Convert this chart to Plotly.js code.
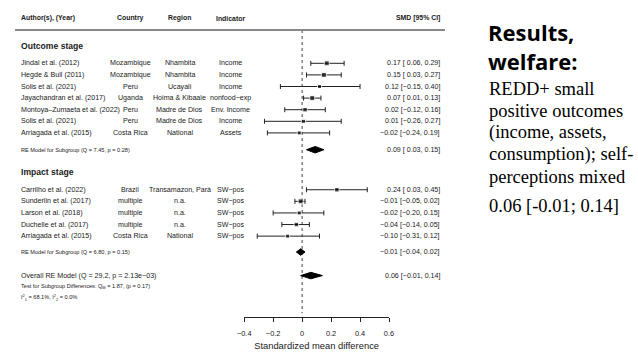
<!DOCTYPE html>
<html>
<head>
<meta charset="utf-8">
<script src="https://cdn.plot.ly/plotly-3.0.1.min.js"></script>
<style>html,body{margin:0;padding:0;background:#fff;}#chart{width:638px;height:359px;}</style>
</head>
<body>
<div id="chart"></div>
<script>
// ---------- data ----------
const outAuthors = ["Jindal et al. (2012)", "Hegde & Bull (2011)", "Solis et al. (2021)", "Jayachandran et al. (2017)", "Montoya\u2013Zumaeta et al. (2022)", "Solis et al. (2021)", "Arriagada et al. (2015)"];
const outCountry = ["Mozambique", "Mozambique", "Peru", "Uganda", "Peru", "Peru", "Costa Rica"];
const outRegion = ["Nhambita", "Nhambita", "Ucayali", "Hoima & Kibaale", "Madre de Dios", "Madre de Dios", "National"];
const outIndicator = ["Income", "Income", "Income", "nonfood\u2212exp", "Env. Income", "Income", "Assets"];
const outSMD = [0.17, 0.15, 0.12, 0.07, 0.02, 0.01, -0.02];
const outLo = [0.06, 0.03, -0.15, 0.01, -0.12, -0.26, -0.24];
const outHi = [0.29, 0.27, 0.40, 0.13, 0.16, 0.27, 0.19];
const outWeight = [5, 5, 4, 5, 4.5, 4, 4];

const impAuthors = ["Carrilho et al. (2022)", "Sunderlin et al. (2017)", "Larson et al. (2018)", "Duchelle et al. (2017)", "Arriagada et al. (2015)"];
const impCountry = ["Brazil", "multiple", "multiple", "multiple", "Costa Rica"];
const impRegion = ["Transamazon, Par\u00e1", "n.a.", "n.a.", "n.a.", "National"];
const impIndicator = ["SW\u2212pos", "SW\u2212pos", "SW\u2212pos", "SW\u2212pos", "SW\u2212pos"];
const impSMD = [0.24, -0.01, -0.02, -0.04, -0.10];
const impLo = [0.03, -0.05, -0.20, -0.14, -0.31];
const impHi = [0.45, 0.02, 0.15, 0.05, 0.12];
const impWeight = [4.5, 5, 4, 4.5, 4];

const summaryLabels = ["RE Model for Subgroup (Q = 7.45, p = 0.28)", "RE Model for Subgroup (Q = 6.80, p = 0.15)", "Overall RE Model (Q = 29.2, p = 2.13e\u221203)"];
const summarySMD = [0.09, -0.01, 0.06];
const summaryLo = [0.03, -0.04, -0.01];
const summaryHi = [0.15, 0.02, 0.14];

const xTicks = [-0.4, -0.2, 0, 0.2, 0.4, 0.6];
const xTickLabels = ["\u22120.4", "\u22120.2", "0", "0.2", "0.4", "0.6"];
const headers = ["Author(s), (Year)", "Country", "Region", "Indicator", "SMD [95% CI]"];
const groupTitles = ["Outcome stage", "Impact stage"];
const testText = "Test for Subgroup Differences: Q<sub>M</sub> = 1.87, (p = 0.17)";
const i2Text = "I<sup>2</sup><sub>1</sub> = 68.1%, I<sup>2</sup><sub>2</sub> = 0.0%";

const slideTitle = ["Results,", "welfare:"];
const slideLines = ["REDD+ small", "positive outcomes", "(income, assets,", "consumption); self-", "perceptions mixed", "0.06 [-0.01; 0.14]"];

// ---------- layout helpers ----------
const W = 638, H = 359;
const fN = "Liberation Sans, Arial, sans-serif";
const ink = "#1a1a1a";
const fmt = v => (v < 0 ? "\u2212" : "") + Math.abs(v).toFixed(2);
const fmtCI = (e, l, h) => {
  const pad = v => (v < 0 ? "" : " ");
  return fmt(e) + " [" + pad(l) + fmt(l) + ", " + fmt(h) + "]";
};

// row positions (row units, downward)
const outRows = outSMD.map((_, i) => i);
const impStart = 10.9;
const impRows = impSMD.map((_, i) => impStart + i);
const sumRows = [7.45, 16.27, 18.3];
const headRow = -3.9, lineRow = -2.87, groupRows = [-1.45, 9.4];
const testRow = 19.25, i2Row = 20.15;

const colX = {author: 19, country: 130, region: 180, indicator: 230.5, smd: 442};
const px = v => v / W;
const py = v => 1 - v / H;

const FS = {row: 7.1, head: 6.9, group: 8.6, small: 5.6};

const annotations = [];
function addText(text, x, row, anchor, size, bold) {
  annotations.push({
    text: bold ? "<b>" + text + "</b>" : text,
    xref: "paper", x: px(x), xanchor: anchor,
    yref: "y", y: row, yanchor: "middle",
    showarrow: false, font: {family: fN, size: size, color: ink}
  });
}

// headers
const hX = [colX.author, colX.country, colX.region, colX.indicator, colX.smd];
const hA = ["left", "center", "center", "center", "right"];
headers.forEach((h, i) => addText(h, hX[i], headRow, hA[i], FS.head, true));
groupTitles.forEach((g, i) => addText(g, colX.author, groupRows[i], "left", FS.group, true));

function studyText(auth, ctry, reg, ind, e, l, h, rows) {
  auth.forEach((a, i) => {
    addText(a, colX.author, rows[i], "left", FS.row);
    addText(ctry[i], colX.country, rows[i], "center", FS.row);
    addText(reg[i], colX.region, rows[i], "center", FS.row);
    addText(ind[i], colX.indicator, rows[i], "center", FS.row);
    addText(fmtCI(e[i], l[i], h[i]), colX.smd, rows[i], "right", FS.row);
  });
}
studyText(outAuthors, outCountry, outRegion, outIndicator, outSMD, outLo, outHi, outRows);
studyText(impAuthors, impCountry, impRegion, impIndicator, impSMD, impLo, impHi, impRows);

summaryLabels.forEach((s, i) => {
  addText(s, colX.author, sumRows[i], "left", i === 2 ? FS.row : FS.small);
  addText(fmtCI(summarySMD[i], summaryLo[i], summaryHi[i]), colX.smd, sumRows[i], "right", FS.row);
});
addText(testText, colX.author, testRow, "left", FS.small);
addText(i2Text, colX.author, i2Row, "left", FS.small);

// slide text
const titleY = [32, 61];
slideTitle.forEach((t, i) => annotations.push({
  text: "<b>" + t + "</b>", xref: "paper", yref: "paper", x: px(486), y: py(titleY[i]),
  xanchor: "left", yanchor: "middle", showarrow: false,
  font: {family: "Open Sans, sans-serif", size: 22, color: "#000"}
}));
const lineY = [89, 110.6, 132.5, 154.5, 176.6, 205.6];
slideLines.forEach((t, i) => annotations.push({
  text: t, xref: "paper", yref: "paper", x: px(487), y: py(lineY[i]),
  xanchor: "left", yanchor: "middle", showarrow: false,
  font: {family: "Liberation Serif, Times New Roman, serif", size: 18.5, color: "#000"}
}));

// ---------- traces ----------
function studyTrace(e, l, h, rows, w) {
  return {
    type: "scatter", mode: "markers", x: e, y: rows, cliponaxis: false,
    marker: {symbol: "square", size: w, color: "#000"},
    error_x: {type: "data", symmetric: false,
      array: e.map((v, i) => h[i] - v), arrayminus: e.map((v, i) => v - l[i]),
      color: "#222", thickness: 1, width: 2.5},
    hoverinfo: "skip", showlegend: false
  };
}
const halfH = 0.28;
const diamonds = summarySMD.map((e, i) => ({
  type: "scatter", mode: "lines", fill: "toself", fillcolor: "#000",
  line: {color: "#000", width: 1}, cliponaxis: false,
  x: [summaryLo[i], e, summaryHi[i], e, summaryLo[i]],
  y: [sumRows[i], sumRows[i] - halfH, sumRows[i], sumRows[i] + halfH, sumRows[i]],
  hoverinfo: "skip", showlegend: false
}));

const data = [studyTrace(outSMD, outLo, outHi, outRows, outWeight),
              studyTrace(impSMD, impLo, impHi, impRows, impWeight)].concat(diamonds);

// y axis: row r -> pixel 63.3 + 11.6 r
const rowPx = 11.6, row0 = 63.3, axisPx = 316.7;
const yTop = -row0 / rowPx, yBot = (axisPx - row0) / rowPx;

const layout = {
  width: W, height: H,
  margin: {l: 0, r: 0, t: 0, b: 0, pad: 0},
  paper_bgcolor: "#fff", plot_bgcolor: "rgba(0,0,0,0)",
  xaxis: {
    domain: [px(244.2), px(389)], range: [-0.4, 0.6], anchor: "y",
    tickvals: xTicks, ticktext: xTickLabels, ticks: "outside", ticklen: 4,
    tickcolor: "#222", tickwidth: 1, showline: true, linecolor: "#222", linewidth: 1,
    showgrid: false, zeroline: false, automargin: false, ticklabelstandoff: 5,
    tickfont: {family: fN, size: 7.4, color: ink},
    title: {text: "Standardized mean difference", standoff: 5,
      font: {family: fN, size: 9.4, color: ink}}
  },
  yaxis: {
    domain: [py(axisPx), 1], range: [yBot, yTop], visible: false,
    showgrid: false, zeroline: false, automargin: false
  },
  shapes: [
    {type: "line", xref: "paper", yref: "y", x0: px(15), x1: px(445), y0: lineRow, y1: lineRow,
     line: {color: "#888", width: 2}},
    {type: "line", xref: "x", yref: "y", x0: 0, x1: 0, y0: lineRow, y1: yBot - 0.3,
     line: {color: "#444", width: 1, dash: "dot"}, layer: "below"}
  ],
  annotations: annotations,
  showlegend: false
};

Plotly.newPlot("chart", data, layout, {displayModeBar: false, staticPlot: true});
</script>
</body>
</html>
